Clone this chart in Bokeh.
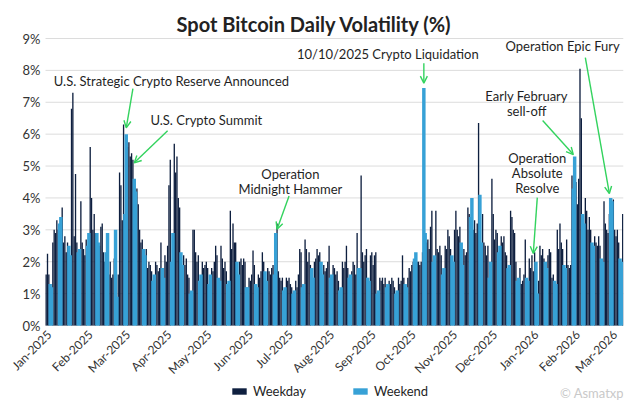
import math
import pandas as pd
from bokeh.plotting import figure
from bokeh.models import (Label, Arrow, OpenHead, Legend, LegendItem, Range1d, ColumnDataSource)
from bokeh.core.properties import value
from bokeh.embed import file_html
from bokeh.resources import INLINE

# ---------------- data: daily spot BTC volatility (%) ----------------
START = "2025-01-01"
jan25 = [1.6, 2.25, 1.6, 1.3, 1.2, 2.6, 3.0, 2.9, 3.3, 3.0, 3.2, 3.4, 3.7, 2.6, 2.8, 2.3,
         2.6, 2.5, 2.2, 6.8, 7.3, 2.8, 4.75, 2.6, 2.3, 2.4, 3.9, 2.6, 2.4, 2.2, 2.7]
feb25 = [2.5, 2.9, 5.6, 4.0, 3.0, 3.5, 2.9, 2.9, 2.6, 2.5, 3.1, 3.2, 2.3, 2.0, 2.3, 2.9,
         1.6, 2.0, 1.5, 1.6, 2.1, 3.0, 0.9, 1.6, 4.8, 4.4, 3.3, 6.3]
mar25 = [3.5, 6.0, 5.6, 5.75, 5.3, 5.4, 5.2, 4.6, 4.2, 4.3, 3.8, 3.0, 2.6, 2.7, 2.4, 2.2,
         2.4, 1.8, 2.0, 1.9, 1.7, 1.4, 1.6, 2.0, 1.9, 1.7, 1.8, 2.6, 1.8, 1.5, 2.2]
apr25 = [2.0, 2.5, 4.4, 5.2, 2.0, 2.9, 5.7, 4.8, 5.3, 4.0, 3.7, 2.3, 1.9, 2.2, 1.9, 2.1,
         1.6, 1.5, 1.0, 1.1, 3.0, 3.0, 2.3, 2.0, 2.2, 1.4, 1.6, 2.0, 1.8, 1.9]
may25 = [2.0, 1.8, 1.3, 1.6, 1.8, 1.7, 2.0, 2.5, 2.2, 1.5, 1.4, 2.5, 2.1, 1.8, 2.0, 1.7,
         1.3, 1.4, 3.6, 2.4, 3.2, 2.6, 2.6, 2.0, 1.6, 2.0, 2.1, 1.9, 2.1, 2.0, 1.2]
jun25 = [1.2, 1.5, 1.4, 1.6, 2.35, 1.9, 1.3, 1.2, 1.6, 1.5, 1.7, 2.3, 2.0, 1.7, 1.4, 1.8,
         1.7, 1.6, 1.8, 1.9, 1.6, 2.9, 3.2, 1.7, 1.5, 1.4, 1.5, 1.1, 1.2, 1.5]
jul25 = [1.4, 1.5, 1.3, 1.2, 1.0, 1.1, 1.4, 1.2, 1.6, 2.4, 2.3, 1.2, 1.3, 2.7, 2.4, 2.0,
         2.3, 1.9, 1.8, 1.5, 2.0, 2.1, 2.4, 2.2, 2.3, 2.0, 1.6, 1.9, 1.7, 1.8, 2.0]
aug25 = [2.5, 1.5, 1.6, 1.9, 1.8, 1.6, 1.7, 1.4, 1.1, 1.2, 2.0, 1.8, 2.0, 2.5, 1.8, 1.5,
         1.6, 1.7, 2.0, 1.9, 1.6, 2.9, 1.8, 1.8, 4.7, 2.3, 2.0, 2.2, 2.4, 1.5, 1.4]
sep25 = [2.2, 2.3, 1.9, 2.2, 2.3, 1.0, 1.1, 1.5, 1.4, 1.5, 1.3, 1.5, 1.2, 1.3, 1.4, 1.3,
         1.5, 1.4, 1.2, 1.0, 1.1, 1.5, 1.3, 1.4, 2.2, 1.5, 1.3, 1.2, 1.5, 1.8]
oct25 = [1.7, 1.9, 2.0, 2.1, 2.3, 2.0, 2.0, 1.9, 2.0, 2.3, 7.45, 2.9, 2.6, 2.7, 2.4, 3.1,
         3.6, 2.0, 2.2, 3.6, 2.4, 2.3, 2.5, 2.2, 1.6, 1.8, 2.5, 2.4, 3.0, 2.8, 2.4]
nov25 = [2.2, 2.0, 3.0, 3.6, 3.0, 2.8, 3.1, 2.6, 1.9, 2.4, 2.2, 2.3, 3.7, 3.5, 3.4, 4.0,
         3.0, 3.3, 2.9, 3.2, 6.35, 4.1, 2.6, 3.5, 2.6, 2.5, 2.2, 2.5, 1.5, 2.0]
dec25 = [4.6, 3.5, 2.7, 3.0, 2.9, 2.3, 2.5, 2.8, 2.6, 2.8, 2.3, 2.2, 1.8, 1.9, 3.6, 3.4,
         3.0, 2.9, 2.0, 1.4, 1.5, 1.8, 1.3, 1.4, 1.6, 2.7, 1.5, 1.4, 2.1, 1.8, 2.2]
jan26 = [1.7, 2.3, 2.0, 1.0, 1.4, 2.5, 2.2, 2.4, 2.1, 2.0, 1.8, 2.2, 2.4, 2.3, 1.5, 1.6,
         1.4, 1.3, 3.0, 2.4, 3.2, 2.6, 2.4, 1.9, 1.8, 2.7, 1.9, 1.8, 1.9, 4.7, 4.3]
feb26 = [5.3, 4.5, 3.8, 4.6, 8.05, 6.5, 3.5, 3.2, 4.0, 3.6, 3.0, 3.4, 3.0, 2.6, 2.5, 2.8,
         2.6, 2.5, 2.8, 2.5, 2.1, 2.0, 3.9, 3.2, 3.0, 2.9, 3.5, 4.0]
mar26 = [3.9, 3.95, 3.0, 2.8, 3.0, 2.6, 2.1, 2.0, 3.5]

Y_TICKS = [0, 1, 2, 3, 4, 5, 6, 7, 8, 9]
Y_LABELS = ["0%", "1%", "2%", "3%", "4%", "5%", "6%", "7%", "8%", "9%"]
MONTH_LABELS = ["Jan-2025", "Feb-2025", "Mar-2025", "Apr-2025", "May-2025", "Jun-2025",
                "Jul-2025", "Aug-2025", "Sep-2025", "Oct-2025", "Nov-2025", "Dec-2025",
                "Jan-2026", "Feb-2026", "Mar-2026"]
SERIES = ["Weekday", "Weekend"]
TITLE = "Spot Bitcoin Daily Volatility (%)"

# annotations: (text lines, label center date, label top-line y, arrow start (date, y), arrow end (date, y))
ANNOTATIONS = [
    (["U.S. Strategic Crypto Reserve Announced"], "2025-04-05", 7.68, ("2025-03-07", 7.43), ("2025-03-02", 6.2)),
    (["U.S. Crypto Summit"], "2025-05-01", 6.43, ("2025-04-02", 6.11), ("2025-03-08", 5.1)),
    (["Operation", "Midnight Hammer"], "2025-07-03", 4.76, ("2025-07-02", 4.06), ("2025-06-23", 3.02)),
    (["10/10/2025 Crypto Liquidation"], "2025-09-14", 8.5, ("2025-10-11", 8.22), ("2025-10-11", 7.6)),
    (["Operation Epic Fury"], "2026-01-23", 8.75, ("2026-02-09", 8.4), ("2026-02-27", 4.14)),
    (["Early February", "sell-off"], "2025-12-27", 7.21, ("2026-01-08", 6.43), ("2026-01-31", 5.36)),
    (["Operation", "Absolute", "Resolve"], "2026-01-04", 5.24, ("2026-01-04", 4.01), ("2026-01-01", 2.26)),
]
WATERMARK = "\u00a9 Asmatxprc"

# ---------------- build ----------------
vol = jan25 + feb25 + mar25 + apr25 + may25 + jun25 + jul25 + aug25 + sep25 + oct25 + nov25 + dec25 + jan26 + feb26 + mar26
dates = pd.date_range(START, periods=len(vol), freq="D")
weekend = dates.dayofweek >= 5
month_starts = pd.date_range(START, periods=len(MONTH_LABELS), freq="MS")
DAY = 86400000.0

def ms(d):
    return pd.Timestamp(d).value / 1e6

NAVY = "#0e1f3f"
LIGHT = "#37a1d6"
GREEN = "#33d35e"
TXT = "#1f1f1f"
FONT = "Lato"

# geometry: bar area 578 px wide, 1% = 287/9 px; the frame covers the whole page so that
# labels, legend and title drawn around the bars are never clipped
BAR_W = 578
LEFT_PAD = 45
TOP_PAD = 38
FRAME_H = 409
PX_PER_PCT = 287 / 9
plot_x0 = ms(dates[0]) - 0.5 * DAY
plot_x1 = ms(dates[-1]) + 0.6 * DAY
ms_per_px = (plot_x1 - plot_x0) / BAR_W
Y_TOP = 9 + TOP_PAD / PX_PER_PCT
Y_BOTTOM = 9 - (FRAME_H - TOP_PAD) / PX_PER_PCT

src_wd = ColumnDataSource(dict(x=dates[~weekend], top=[v for v, w in zip(vol, weekend) if not w]))
src_we = ColumnDataSource(dict(x=dates[weekend], top=[v for v, w in zip(vol, weekend) if w]))
src_mo = ColumnDataSource(dict(x=month_starts, y=[0] * len(MONTH_LABELS), text=MONTH_LABELS))
src_yt = ColumnDataSource(dict(x0=[plot_x0] * len(Y_TICKS), x1=[plot_x1] * len(Y_TICKS),
                               y=Y_TICKS, text=Y_LABELS))

p = figure(frame_width=BAR_W + LEFT_PAD, frame_height=FRAME_H, x_axis_type="datetime",
           x_axis_location=None, y_axis_location=None,
           output_backend="svg", toolbar_location=None, min_border_left=0, min_border_right=16,
           min_border_top=0, min_border_bottom=0)
p.x_range = Range1d(plot_x0 - LEFT_PAD * ms_per_px, plot_x1)
p.y_range = Range1d(Y_BOTTOM, Y_TOP)
p.outline_line_color = None
p.grid.visible = False

# horizontal gridlines and y tick labels
p.segment(x0="x0", x1="x1", y0="y", y1="y", source=src_yt, line_color="#dcdcdc", line_width=1)
p.text(x="x0", y="y", text="text", source=src_yt, x_offset=-5, text_align="right",
       text_baseline="middle", text_font=value(FONT), text_font_size="13px", text_color="#333333")

r_wd = p.vbar(x="x", top="top", bottom=0, width=1.0 * DAY, source=src_wd, fill_color=NAVY, line_color=None)
r_we = p.vbar(x="x", top="top", bottom=0, width=2.6 * DAY, source=src_we, fill_color=LIGHT, line_color=None)

# month tick labels (rotated 45 degrees, ending at each month start)
p.text(x="x", y="y", text="text", source=src_mo, angle=math.pi / 4, x_offset=3, y_offset=7,
       text_align="right", text_baseline="middle", text_font=value(FONT),
       text_font_size="12px", text_color="#333333")

# chart title
p.add_layout(Label(x=ms("2025-07-21"), y=9 + 15 / PX_PER_PCT, text=TITLE, text_align="center",
                   text_baseline="middle", text_font=FONT, text_font_size="20px",
                   text_font_style="bold", text_color="#222222"))

legend = Legend(items=[LegendItem(label=SERIES[0], renderers=[r_wd]),
                       LegendItem(label=SERIES[1], renderers=[r_we])],
                orientation="horizontal", location=(230, 10),
                glyph_width=18, glyph_height=8, spacing=45, label_standoff=5,
                label_text_font=FONT, label_text_font_size="13px", label_text_color=TXT,
                border_line_color=None, background_fill_alpha=0, padding=2, margin=0)
p.add_layout(legend)

LINE = 0.47
for lines, cdate, ytop, (sd, sy), (ed, ey) in ANNOTATIONS:
    for i, t in enumerate(lines):
        p.add_layout(Label(x=ms(cdate), y=ytop - i * LINE, text=t, text_align="center",
                           text_baseline="middle", text_font=FONT, text_font_size="13px",
                           text_color=TXT))
    p.add_layout(Arrow(end=OpenHead(size=7, line_color=GREEN, line_width=1.4),
                       x_start=ms(sd), y_start=sy, x_end=ms(ed), y_end=ey,
                       line_color=GREEN, line_width=1.4))

p.add_layout(Label(x=ms("2026-01-21"), y=-2.13, text=WATERMARK, text_font=FONT,
                   text_font_size="13px", text_color="#c9c9c9", text_baseline="middle"))

open("out.html", "w").write(file_html(p, INLINE))
